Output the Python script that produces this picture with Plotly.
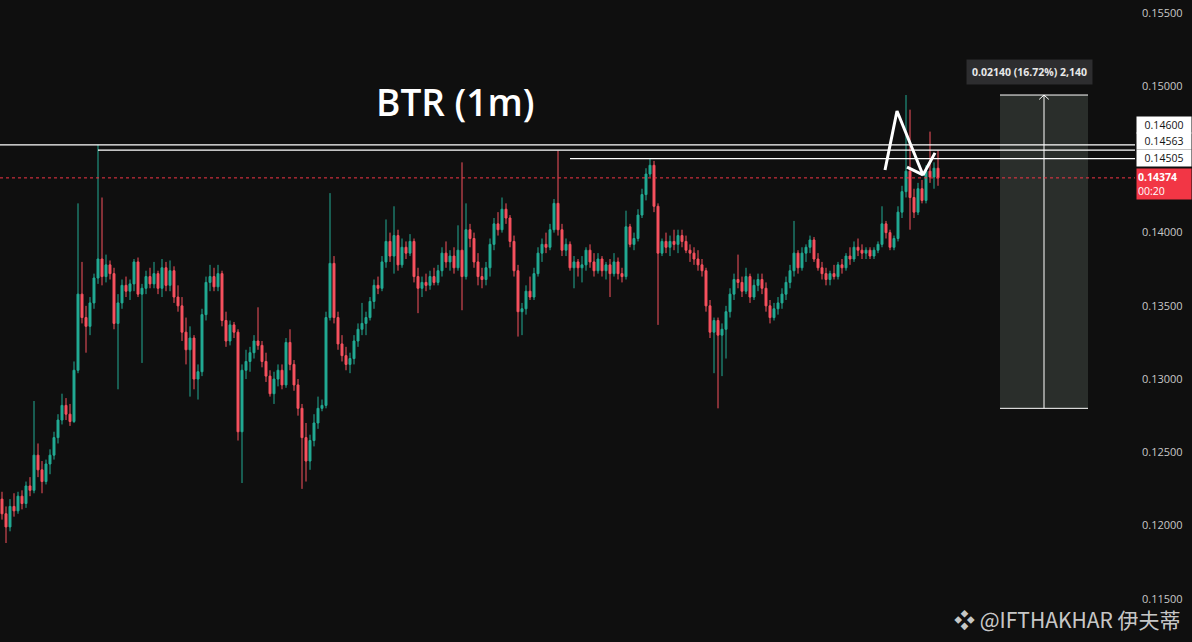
import numpy as np
import plotly.graph_objects as go

# 1m candles, left to right; prices in units of 0.00001
OPEN = [
    12180, 12080, 11990, 12130, 12100, 12200, 12150, 12270, 12240, 12480,
    12380, 12300, 12420, 12480, 12600, 12720, 12820, 12760, 12710, 13060,
    13580, 13420, 13360, 13520, 13690, 13820, 13700, 13780, 13720, 13380,
    13520, 13640, 13600, 13650, 13800, 13580, 13620, 13700, 13650, 13720,
    13620, 13760, 13640, 13740, 13560, 13500, 13320, 13200, 13280, 13000,
    13050, 13440, 13660, 13700, 13630, 13720, 13400, 13260, 13370, 13320,
    12640, 13060, 13120, 13180, 13260, 13230, 13120, 13020, 12900, 13000,
    13060, 12960, 13250, 13100, 12960, 12800, 12600, 12440, 12580, 12700,
    12800, 12820, 13420, 13790, 13420, 13240, 13160, 13100, 13140, 13260,
    13340, 13380, 13420, 13530, 13640, 13620, 13800, 13940, 13840, 13980,
    13780, 13900, 13860, 13940, 13700, 13620, 13660, 13640, 13700, 13660,
    13740, 13860, 13800, 13840, 13760, 13880, 13700, 14020, 13960, 13800,
    13700, 13680, 13760, 13920, 14060, 14020, 14160, 14100, 13940, 13740,
    13460, 13480, 13600, 13560, 13720, 13860, 13920, 13900, 14020, 14200,
    14020, 13880, 13920, 13760, 13800, 13760, 13780, 13880, 13800, 13740,
    13820, 13740, 13780, 13720, 13800, 13720, 13700, 14040, 13920, 13960,
    14120, 14260, 14400, 14460, 14180, 13860, 13940, 13900, 13940, 13920,
    13980, 13940, 13880, 13860, 13820, 13780, 13740, 13500, 13320, 13400,
    13300, 13340, 13460, 13580, 13680, 13660, 13600, 13700, 13560, 13640,
    13680, 13620, 13500, 13420, 13480, 13520, 13580, 13660, 13740, 13860,
    13760, 13860, 13900, 13950, 13820, 13760, 13720, 13680, 13720, 13700,
    13780, 13760, 13840, 13820, 13900, 13880, 13860, 13880, 13840, 13880,
    13920, 14060, 14000, 13900, 13960, 14140, 14280, 14420, 14240, 14140,
    14300, 14220, 14420, 14380, 14440,
]
HIGH = [
    12230, 12130, 12180, 12220, 12230, 12240, 12300, 12330, 12850, 12560,
    12440, 12450, 12520, 12640, 12760, 12900, 12870, 12830, 13120, 14200,
    13800, 13500, 13560, 13720, 14600, 14240, 13850, 13810, 13760, 13580,
    13680, 13700, 13680, 13820, 13830, 13650, 13740, 13760, 13800, 13740,
    13820, 13800, 13810, 13770, 13640, 13560, 13420, 13360, 13300, 13100,
    13480, 13700, 13780, 13760, 13780, 13740, 13460, 13400, 13390, 13340,
    13100, 13200, 13220, 13300, 13490, 13260, 13180, 13060, 13050, 13100,
    13100, 13280, 13340, 13130, 13000, 12830, 12700, 12620, 12760, 12880,
    12860, 13460, 14270, 13840, 13460, 13300, 13220, 13180, 13300, 13380,
    13520, 13460, 13560, 13680, 13700, 13840, 14090, 14000, 14180, 14020,
    13960, 13940, 13990, 13960, 13760, 13700, 13720, 13740, 13760, 13780,
    13900, 13940, 13880, 13900, 14050, 14480, 14200, 14060, 14000, 13860,
    13760, 13800, 13960, 14100, 14140, 14240, 14200, 14120, 13980, 13780,
    13520, 13640, 13700, 13760, 13900, 13960, 14000, 14060, 14230, 14560,
    14060, 13960, 13940, 13840, 13820, 13840, 13900, 13920, 13860, 13860,
    13840, 13800, 13820, 13860, 13830, 13760, 14150, 14060, 14000, 14160,
    14300, 14440, 14505, 14490, 14200, 13960, 14000, 13980, 14020, 14020,
    14020, 13980, 13920, 13900, 13880, 13820, 13760, 13540, 13420, 13420,
    13380, 13500, 13620, 13720, 13850, 13700, 13760, 13720, 13680, 13720,
    13720, 13660, 13540, 13520, 13560, 13620, 13700, 13780, 14080, 13880,
    13900, 13920, 13980, 13970, 13860, 13800, 13760, 13740, 13780, 13800,
    13820, 13860, 13900, 13940, 13960, 13920, 13900, 13900, 13900, 13940,
    14180, 14080, 14020, 13980, 14180, 14320, 14940, 14840, 14300, 14340,
    14360, 14460, 14690, 14480, 14560,
]
LOW = [
    12040, 11880, 11960, 12060, 12080, 12110, 12120, 12200, 12220, 12330,
    12220, 12280, 12350, 12450, 12560, 12690, 12720, 12680, 12700, 13040,
    13380, 13180, 13300, 13480, 13650, 13640, 13660, 13680, 13340, 12930,
    13480, 13560, 13540, 13600, 13560, 13110, 13580, 13620, 13620, 13580,
    13560, 13600, 13600, 13520, 13460, 13260, 13100, 12880, 12930, 12860,
    13020, 13400, 13600, 13600, 13600, 13360, 13220, 13230, 13280, 12580,
    12290, 13000, 13050, 13140, 13200, 13080, 12980, 12880, 12830, 12950,
    12930, 12940, 13060, 12920, 12750, 12250, 12300, 12380, 12540, 12660,
    12780, 12800, 13400, 13380, 13200, 13120, 13060, 13040, 13100, 13220,
    13300, 13300, 13400, 13480, 13580, 13600, 13760, 13800, 13720, 13740,
    13760, 13820, 13840, 13660, 13450, 13560, 13600, 13610, 13640, 13640,
    13700, 13760, 13740, 13720, 13740, 13470, 13680, 13900, 13760, 13640,
    13620, 13640, 13700, 13880, 13980, 14000, 14060, 13900, 13700, 13290,
    13300, 13440, 13540, 13540, 13700, 13800, 13860, 13880, 14000, 13980,
    13840, 13840, 13740, 13620, 13700, 13660, 13740, 13760, 13700, 13720,
    13700, 13680, 13560, 13700, 13680, 13660, 13680, 13900, 13880, 13940,
    14100, 14220, 14380, 14140, 13370, 13840, 13860, 13840, 13880, 13860,
    13900, 13860, 13800, 13780, 13740, 13700, 13460, 13280, 13040, 12800,
    13020, 13140, 13420, 13540, 13620, 13560, 13580, 13520, 13540, 13600,
    13580, 13460, 13380, 13400, 13440, 13480, 13540, 13620, 13700, 13720,
    13740, 13800, 13860, 13800, 13740, 13680, 13640, 13640, 13680, 13680,
    13720, 13740, 13780, 13800, 13840, 13820, 13820, 13820, 13820, 13860,
    13900, 13960, 13880, 13880, 13940, 14100, 14240, 14020, 14100, 14120,
    14200, 14200, 14340, 14300, 14320,
]
CLOSE = [
    12080, 11990, 12130, 12100, 12200, 12150, 12270, 12240, 12480, 12380,
    12300, 12420, 12480, 12600, 12720, 12820, 12760, 12710, 13060, 13580,
    13420, 13360, 13520, 13690, 13820, 13700, 13780, 13720, 13380, 13520,
    13640, 13600, 13650, 13800, 13580, 13620, 13700, 13650, 13720, 13620,
    13760, 13640, 13740, 13560, 13500, 13320, 13200, 13280, 13000, 13050,
    13440, 13660, 13700, 13630, 13720, 13400, 13260, 13370, 13320, 12640,
    13060, 13120, 13180, 13260, 13230, 13120, 13020, 12900, 13000, 13060,
    12960, 13250, 13100, 12960, 12800, 12600, 12440, 12580, 12700, 12800,
    12820, 13420, 13790, 13420, 13240, 13160, 13100, 13140, 13260, 13340,
    13380, 13420, 13530, 13640, 13620, 13800, 13940, 13840, 13980, 13780,
    13900, 13860, 13940, 13700, 13620, 13660, 13640, 13700, 13660, 13740,
    13860, 13800, 13840, 13760, 13880, 13700, 14020, 13960, 13800, 13700,
    13680, 13760, 13920, 14060, 14020, 14160, 14100, 13940, 13740, 13460,
    13480, 13600, 13560, 13720, 13860, 13920, 13900, 14020, 14200, 14020,
    13880, 13920, 13760, 13800, 13760, 13780, 13880, 13800, 13740, 13820,
    13740, 13780, 13720, 13800, 13720, 13700, 14040, 13920, 13960, 14120,
    14260, 14400, 14460, 14180, 13860, 13940, 13900, 13940, 13920, 13980,
    13940, 13880, 13860, 13820, 13780, 13740, 13500, 13320, 13400, 13300,
    13340, 13460, 13580, 13680, 13660, 13600, 13700, 13560, 13640, 13680,
    13620, 13500, 13420, 13480, 13520, 13580, 13660, 13740, 13860, 13760,
    13860, 13900, 13950, 13820, 13760, 13720, 13680, 13720, 13700, 13780,
    13760, 13840, 13820, 13900, 13880, 13860, 13880, 13840, 13880, 13920,
    14060, 14000, 13900, 13960, 14140, 14280, 14420, 14240, 14140, 14300,
    14220, 14420, 14380, 14440, 14374,
]
PRICE_UNIT = 1e-5

# horizontal levels drawn on the chart (price, first bar)
LEVELS = [0.14600, 0.14563, 0.14505]
LEVEL_START = [-0.5, 24, 142]
LAST_PRICE = 0.14374
COUNTDOWN = "00:20"

# price range measurement
MEASURE_LOW = 0.12800
MEASURE_HIGH = 0.14940
MEASURE_BARS = [249.5, 271.5]

# hand drawn arrow (bar index, price)
DRAW_X = [220.75, 223.75, 230.25, 233.25]
DRAW_Y = [0.14428, 0.14831, 0.14394, 0.14545]
WING_X = [226.25, 230.25]
WING_Y = [0.14448, 0.14394]

# 0.14500 sits under the level labels, so it is not shown
YTICKS = [0.115, 0.120, 0.125, 0.130, 0.135, 0.140, 0.150, 0.155]

BG = "#0f0f0f"
GREEN = "#22ab94"
RED = "#f7525f"
X_MAX = 283.25

bars = np.arange(len(CLOSE))
o = np.array(OPEN) * PRICE_UNIT
h = np.array(HIGH) * PRICE_UNIT
l = np.array(LOW) * PRICE_UNIT
c = np.array(CLOSE) * PRICE_UNIT

fig = go.Figure()
fig.add_trace(go.Candlestick(
    x=bars, open=o, high=h, low=l, close=c,
    increasing=dict(line=dict(color=GREEN, width=1), fillcolor=GREEN),
    decreasing=dict(line=dict(color=RED, width=1), fillcolor=RED),
    whiskerwidth=0, showlegend=False, hoverinfo="skip",
))

# measurement box
mid = sum(MEASURE_BARS) / 2
fig.add_shape(type="rect", x0=MEASURE_BARS[0], x1=MEASURE_BARS[1],
              y0=MEASURE_LOW, y1=MEASURE_HIGH, layer="below",
              fillcolor="#2a2e2b", line_width=0)
for yy in (MEASURE_LOW, MEASURE_HIGH):
    fig.add_shape(type="line", x0=MEASURE_BARS[0], x1=MEASURE_BARS[1],
                  y0=yy, y1=yy, line=dict(color="white", width=1))
fig.add_shape(type="line", x0=mid, x1=mid, y0=MEASURE_LOW, y1=MEASURE_HIGH,
              line=dict(color="white", width=1))
fig.add_trace(go.Scatter(
    x=[mid - 1.2, mid, mid + 1.2],
    y=[MEASURE_HIGH - 0.0003, MEASURE_HIGH, MEASURE_HIGH - 0.0003],
    mode="lines", line=dict(color="white", width=1),
    showlegend=False, hoverinfo="skip",
))

diff = MEASURE_HIGH - MEASURE_LOW
measure_text = "<b>%.5f (%.2f%%) %s</b>" % (
    diff, diff / MEASURE_LOW * 100, f"{round(diff / PRICE_UNIT):,}")
fig.add_annotation(x=mid - 3.6, y=0.15097, text=measure_text, showarrow=False,
                   bgcolor="#2d2d2f", borderpad=5,
                   font=dict(color="#e8e8e8", size=10.5, family="Open Sans"))

# levels
for lvl, start in zip(LEVELS, LEVEL_START):
    fig.add_shape(type="line", x0=start, x1=X_MAX, y0=lvl, y1=lvl,
                  line=dict(color="white", width=1.3))
fig.add_shape(type="line", x0=-0.5, x1=X_MAX, y0=LAST_PRICE, y1=LAST_PRICE,
              line=dict(color="#f23645", width=1, dash="dot"))

# hand drawn arrow
fig.add_trace(go.Scatter(x=DRAW_X, y=DRAW_Y, mode="lines",
                         line=dict(color="white", width=3),
                         showlegend=False, hoverinfo="skip"))
fig.add_trace(go.Scatter(x=WING_X, y=WING_Y, mode="lines",
                         line=dict(color="white", width=3),
                         showlegend=False, hoverinfo="skip"))

# price labels on the axis
label_y = [0.14735, 0.14626, 0.14510]
for lvl, yy in zip(LEVELS, label_y):
    fig.add_annotation(xref="paper", x=1.0, xanchor="left", xshift=1, y=yy,
                       text="%.5f" % lvl, showarrow=False, width=52, height=14,
                       align="center", bgcolor="white", borderpad=1,
                       font=dict(color="#131313", size=10.5, family="Open Sans"))
fig.add_annotation(xref="paper", x=1.0, xanchor="left", xshift=1, y=0.14332,
                   text="<b>%.5f</b><br>%s" % (LAST_PRICE, COUNTDOWN),
                   showarrow=False, width=52, height=28, align="left",
                   bgcolor="#f23645", borderpad=1,
                   font=dict(color="white", size=10.5, family="Open Sans"))

fig.add_annotation(x=113.25, y=0.14899, text="BTR (1m)", showarrow=False,
                   font=dict(color="white", size=37, family="Open Sans",
                             weight=600))

fig.add_annotation(xref="paper", yref="paper", x=1183 / 1135, y=0.036,
                   xanchor="right", yanchor="middle",
                   text="❖ @IFTHAKHAR 伊夫蒂", showarrow=False,
                   font=dict(color="rgba(225,225,225,0.9)", size=21,
                             family="Noto Sans CJK SC"))

fig.update_layout(
    width=1192, height=642,
    margin=dict(l=0, r=57, t=0, b=0),
    paper_bgcolor=BG, plot_bgcolor=BG,
    xaxis=dict(visible=False, range=[-0.5, X_MAX], rangeslider_visible=False,
               showgrid=False),
    yaxis=dict(side="right", range=[0.11204, 0.15589], tickvals=YTICKS,
               tickformat=".5f", showgrid=False, zeroline=False,
               ticklabelstandoff=6,
               tickfont=dict(color="#c8c8c8", size=11, family="Open Sans")),
    showlegend=False,
)

fig.write_html("out.html", config={"displayModeBar": False},
               post_script="document.body.style.margin='0';"
                           "document.body.style.background='%s';" % BG)
